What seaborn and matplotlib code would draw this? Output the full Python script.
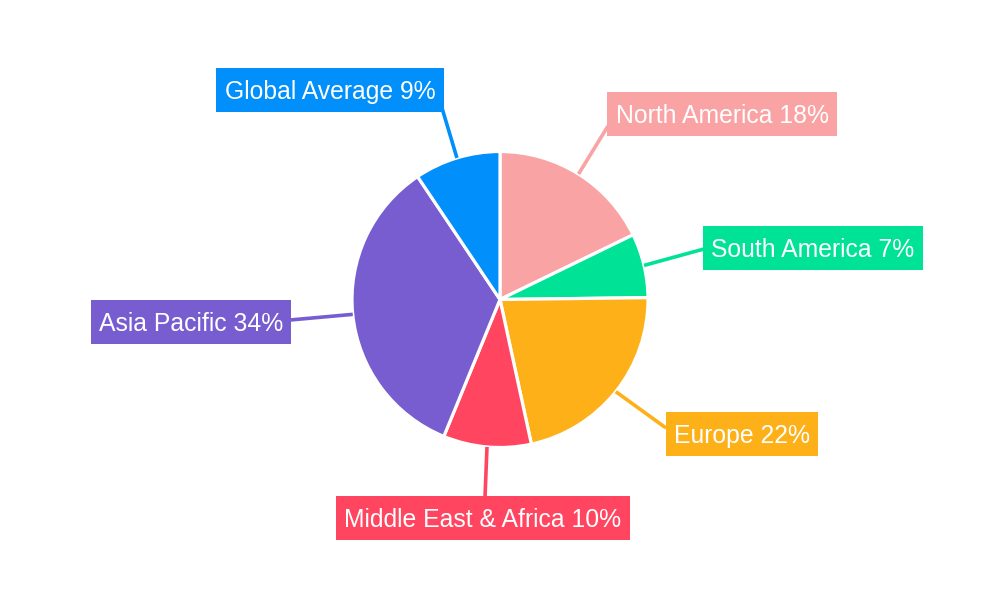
import numpy as np
import matplotlib
matplotlib.use("Agg")
import matplotlib.pyplot as plt
from matplotlib.patches import Rectangle
import seaborn as sns

# ---- data ----
regions = ["North America", "South America", "Europe",
           "Middle East & Africa", "Asia Pacific", "Global Average"]
shares = [17.8, 7.0, 21.8, 9.6, 34.4, 9.4]
colors = ["#F9A3A4", "#00E396", "#FEB019", "#FF4560", "#775DD0", "#008FFB"]

# label layout (pixel positions: box centre, connector end)
label_centers = [(722, 114), (813, 248), (742, 434), (483, 518), (191, 322), (330, 90)]
line_ends = [(608, 126), (704, 249), (666, 428), (485, 497), (290, 320), (442, 108)]

sns.set_theme(style="white")
plt.rcParams["font.family"] = ["Liberation Sans", "DejaVu Sans"]

W, H = 1000, 600
CX, CY, R = 500, 299.5, 148.0
FS = 17.8                  # pt
FS_PX = FS * 100 / 72       # px
BOX_H = 43.7
PAD_X = 8.3

fig = plt.figure(figsize=(10, 6), dpi=100)
ax = fig.add_axes([0, 0, 1, 1])
palette = sns.color_palette(colors)

wedges, _ = ax.pie(shares, colors=palette, startangle=90, counterclock=False,
                   radius=1.0, center=(0, 0),
                   wedgeprops=dict(edgecolor="white", linewidth=2.3))

ax.set_xlim(-CX / R, (W - CX) / R)
ax.set_ylim(-(H - CY) / R, CY / R)
ax.set_aspect("equal")
ax.axis("off")


def px2d(px, py):
    return (px - CX) / R, (CY - py) / R


renderer = fig.canvas.get_renderer()
total = sum(shares)
cum = 0
for name, val, col, c, e in zip(regions, shares, colors, label_centers, line_ends):
    mid = (cum + val / 2) / total * 2 * np.pi
    cum += val
    sx, sy = np.sin(mid), np.cos(mid)
    ex, ey = px2d(*e)
    ax.plot([sx, ex], [sy, ey], color=col, lw=2.6, solid_capstyle="butt", zorder=3)
    # text: baseline so that capitals are centred in the box
    bx, by = c
    tx, ty = px2d(bx, by + 0.716 * FS_PX / 2)
    t = ax.text(tx, ty, f"{name} {val:.0f}%", color="white", fontsize=FS,
                ha="center", va="baseline", zorder=5)
    wpx = t.get_window_extent(renderer).width
    x0, y0 = px2d(bx - wpx / 2 - PAD_X, by + BOX_H / 2)
    ax.add_patch(Rectangle((x0, y0), (wpx + 2 * PAD_X) / R, BOX_H / R,
                           facecolor=col, edgecolor="none", zorder=4))

fig.savefig("out.png", dpi=100, facecolor="white")
